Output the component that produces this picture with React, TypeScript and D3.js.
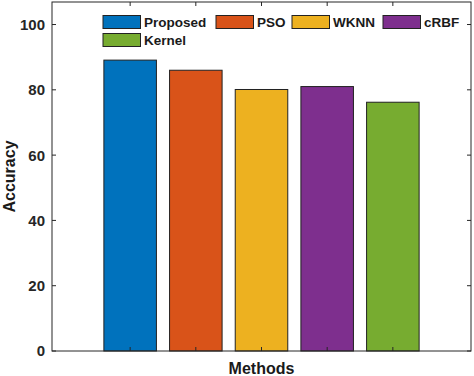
import React from "react";
import * as d3 from "d3";

const categories = ["Proposed", "PSO", "WKNN", "cRBF", "Kernel"];
const values = [89.1, 86.0, 80.1, 81.0, 76.2];
const colors = ["#0072BD", "#D95319", "#EDB120", "#7E2F8E", "#77AC30"];
const yTicks = [0, 20, 40, 60, 80, 100];
const legendRows = [["Proposed", "PSO", "WKNN", "cRBF"], ["Kernel"]];
const legendColX = [103, 216, 292, 383];

const W = 474, H = 376;
const left = 52, right = 471, top = 2, bottom = 351;

export default function App() {
  const x = d3.scaleLinear().domain([-0.19, 6.19]).range([left, right]);
  const y = d3.scaleLinear().domain([0, 106.9]).range([bottom, top]);
  const bw = x(0.8) - x(0);
  const axisColor = "#262626";
  const font = "'Liberation Sans', Arial, sans-serif";
  return (
    <svg width={W} height={H} style={{ position: "absolute", left: 0, top: 0 }} fontFamily={font}>
      <rect x={0} y={0} width={W} height={H} fill="#fff" />
      <rect x={left} y={top} width={right - left} height={bottom - top} fill="#fff" />
      {values.map((v, i) => (
        <rect key={i} x={x(i + 1) - bw / 2} y={y(v)} width={bw} height={y(0) - y(v)}
          fill={colors[i]} stroke="#222" strokeWidth={1} />
      ))}
      {/* axes box */}
      <rect x={left} y={top} width={right - left} height={bottom - top} fill="none" stroke={axisColor} strokeWidth={1} />
      {yTicks.map((t) => (
        <g key={t}>
          <line x1={left} x2={left + 4} y1={y(t)} y2={y(t)} stroke={axisColor} />
          <line x1={right - 4} x2={right} y1={y(t)} y2={y(t)} stroke={axisColor} />
          <text x={left - 7} y={y(t)} dy="0.36em" textAnchor="end" fontSize={15} fontWeight="bold" fill="#262626">{t}</text>
        </g>
      ))}
      {categories.map((c, i) => (
        <g key={c}>
          <line x1={x(i + 1)} x2={x(i + 1)} y1={bottom} y2={bottom - 4} stroke={axisColor} />
          <line x1={x(i + 1)} x2={x(i + 1)} y1={top} y2={top + 4} stroke={axisColor} />
        </g>
      ))}
      {/* legend */}
      {legendRows.map((row, r) =>
        row.map((name, c) => {
          const idx = categories.indexOf(name);
          const yy = 15.5 + r * 18;
          const xx = legendColX[c];
          return (
            <g key={name}>
              <rect x={xx} y={yy} width={37.5} height={13} fill={colors[idx]} stroke="#222" strokeWidth={1} />
              <text x={xx + 41} y={yy + 6.5} dy="0.36em" fontSize={13.5} fontWeight="bold" fill="#1a1a1a">{name}</text>
            </g>
          );
        })
      )}
      <text x={(left + right) / 2} y={374} textAnchor="middle" fontSize={16} fontWeight="bold" fill="#1a1a1a">Methods</text>
      <text transform={`translate(15,${(top + bottom) / 2}) rotate(-90)`} textAnchor="middle" fontSize={16} fontWeight="bold" fill="#1a1a1a">Accuracy</text>
    </svg>
  );
}
